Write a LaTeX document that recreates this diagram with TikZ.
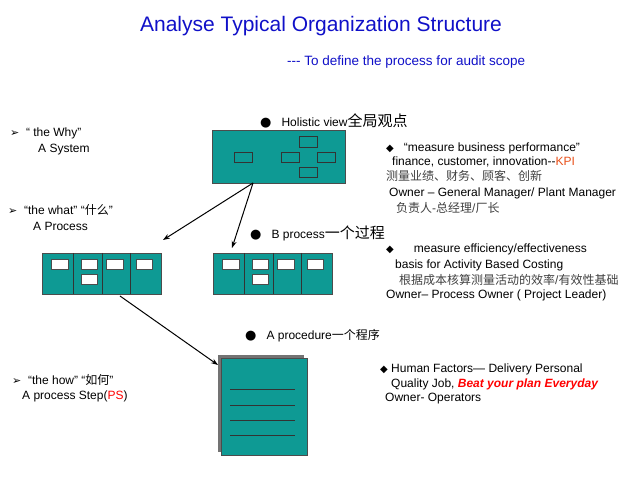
\documentclass[tikz,border=0pt]{standalone}
\usepackage{amssymb}
\usepackage{fontspec}
\setmainfont{Liberation Sans}
\newfontfamily\cjk{Noto Sans CJK SC}
\newfontfamily\sym{DejaVu Sans}
\usetikzlibrary{arrows.meta}
\definecolor{teal1}{HTML}{0E9A94}
\definecolor{tblue}{HTML}{1010C8}
\definecolor{kpi}{HTML}{E8501A}
\newcommand{\tri}{{\sym\fontsize{11}{13}\selectfont ➢}}
\newcommand{\dia}{{\sym\fontsize{10}{13}\selectfont ◆}}
\newcommand{\bul}{{\sym\fontsize{13}{13}\selectfont ●}}
\begin{document}
\begin{tikzpicture}[x=1pt,y=-1pt,
  box/.style={draw=black!70,fill=teal1,line width=0.6pt},
  ib/.style={draw=black!80,line width=0.6pt},
  wb/.style={draw=black!70,fill=white,line width=0.5pt},
  txt/.style={anchor=west,inner sep=0pt,font=\fontsize{12}{14}\selectfont},
  arr/.style={-{Stealth[length=7pt,width=5pt]},line width=1pt}]
\useasboundingbox (0,0) rectangle (638,478);
\node[font=\fontsize{21}{24}\selectfont,text=tblue] (title) at (321,26) {Analyse Typical Organization Structure};
\node[txt,text=tblue,font=\fontsize{13.5}{15}\selectfont] (sub) at (287,62) {{-}{-}{-} To define the process for audit scope};
% left labels
\node[txt] (why) at (10,133) {\tri\ \ “ the Why”};
\node[txt] (sys) at (38,150) {A System};
\node[txt] (what) at (8,210) {\tri\ \ “the what” “{\cjk 什么}”};
\node[txt] (proc) at (33,226) {A Process};
\node[txt] (how) at (12,380) {\tri\ \ “the how” “{\cjk 如何}”};
\node[txt] (step) at (22,396) {A process Step(\textcolor{red}{PS})};
% top box
\draw[box] (212,130) rectangle (345,183);
\coordinate (topb) at (253,183);
\draw[ib] (234,152) rectangle (252,162);
\draw[ib] (281,152) rectangle (299,162);
\draw[ib] (299,136) rectangle (317,147);
\draw[ib] (317,152) rectangle (335,162);
\draw[ib] (299,167) rectangle (317,177);
% B box
\draw[box] (213,253) rectangle (332,294);
\draw[ib] (244,253) -- (244,294) (273,253) -- (273,294) (301,253) -- (301,294);
\draw[wb] (222,259) rectangle (239,269);
\draw[wb] (252,259) rectangle (268,269);
\draw[wb] (252,274) rectangle (268,284);
\draw[wb] (277,259) rectangle (294,269);
\draw[wb] (307,259) rectangle (323,269);
% left process box
\begin{scope}[xshift=-171pt]
\draw[box] (213,253) rectangle (332,294);
\draw[ib] (244,253) -- (244,294) (273,253) -- (273,294) (301,253) -- (301,294);
\draw[wb] (222,259) rectangle (239,269);
\draw[wb] (252,259) rectangle (268,269);
\draw[wb] (252,274) rectangle (268,284);
\draw[wb] (277,259) rectangle (294,269);
\draw[wb] (307,259) rectangle (323,269);
\end{scope}
% procedure box
\fill[black!55] (218,355) rectangle (304,452);
\draw[box] (221,358) rectangle (307,455);
\draw[black!80] (230,389) -- (295,389) (230,405) -- (295,405) (230,420) -- (295,420) (230,435) -- (295,435);
% arrows
\coordinate (lt) at (163,240);
\coordinate (bt) at (232,248);
\coordinate (lb) at (120,296);
\coordinate (pt) at (218,365);
\draw[arr] (topb) -- (lt);
\draw[arr] (topb) -- (bt);
\draw[arr] (lb) -- (pt);
% bullets
\node[txt] (hv) at (260,121) {\bul\ \ \ Holistic view{\cjk\fontsize{15}{17}\selectfont 全局观点}};
\node[txt] (bp) at (250,233) {\bul\ \ \ B process{\cjk\fontsize{15}{17}\selectfont 一个过程}};
\node[txt] (ap) at (245,336) {\bul\ \ \ A procedure{\cjk 一个程序}};
% right texts
\node[txt] (r1) at (386,148) {\dia\ \ \ “measure business performance”};
\node[txt] (r2) at (392,162) {finance, customer, innovation{-}{-}\textcolor{kpi}{KPI}};
\node[txt,text=black!75] (r3) at (386,176) {\cjk 测量业绩、财务、顾客、创新};
\node[txt] (r4) at (389,193) {Owner – General Manager/ Plant Manager};
\node[txt,text=black!75] (r5) at (396,208) {{\cjk 负责人}-{\cjk 总经理}/{\cjk 厂长}};
\node[txt] (r6) at (386,249) {\dia\ \ \ \ \ \ measure efficiency/effectiveness};
\node[txt] (r7) at (395,265) {basis for Activity Based Costing};
\node[txt,text=black!75] (r8) at (399,280) {{\cjk 根据成本核算测量活动的效率}/{\cjk 有效性基础}};
\node[txt] (r9) at (386,295) {Owner– Process Owner ( Project Leader)};
\node[txt] (r10) at (380,369) {\dia\ Human Factors— Delivery Personal};
\node[txt] (r11) at (391,384) {Quality Job, \textcolor{red}{\bfseries\itshape Beat your plan Everyday}};
\node[txt] (r12) at (385,399) {Owner- Operators};
\end{tikzpicture}
\end{document}
